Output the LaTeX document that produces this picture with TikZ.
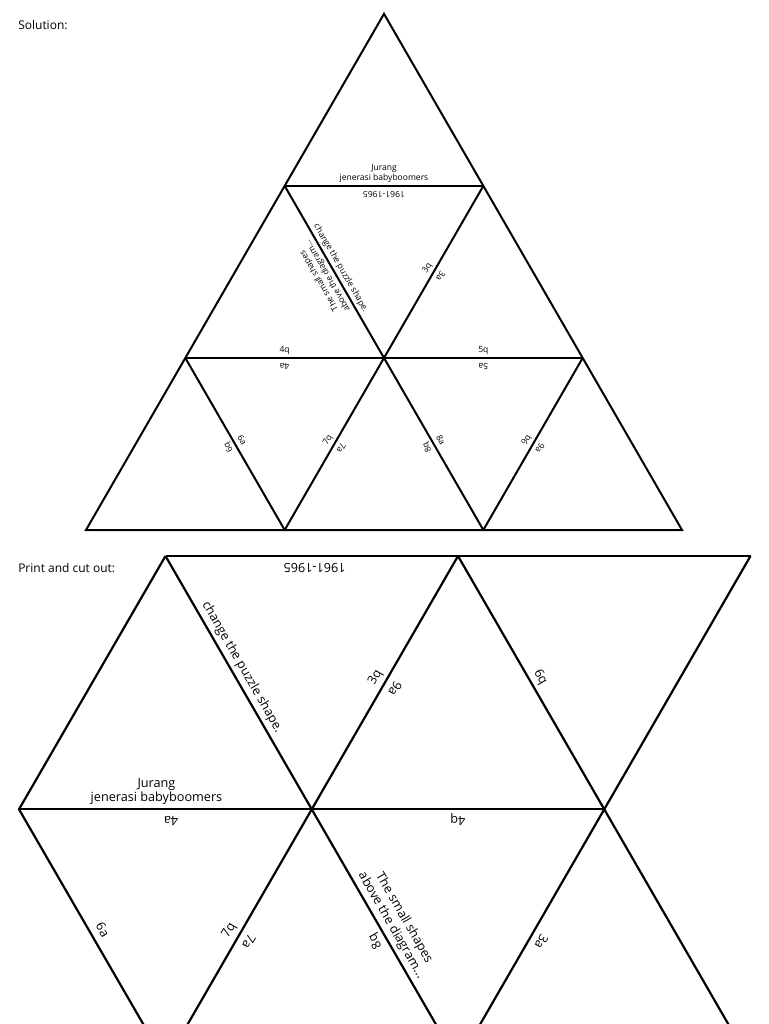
\documentclass[tikz,border=0pt]{standalone}
\usepackage{fontspec}
\setmainfont{Open Sans}
\begin{document}
\begin{tikzpicture}[x=0.75pt,y=-0.75pt,
  edgeline/.style={line width=1.5pt, line join=miter, line cap=butt},
  cutline/.style={line width=1.65pt, line join=miter, line cap=butt},
  biglab/.style={font=\fontsize{9.5}{11}\selectfont, sloped, allow upside down, above,
    align=center, inner xsep=1pt, inner ysep=5.5pt, text depth=0pt},
  smalllab/.style={font=\fontsize{6.4}{7.4}\selectfont, sloped, allow upside down, above,
    align=center, inner xsep=1pt, inner ysep=3.7pt, text depth=0pt},
  heading/.style={font=\fontsize{9}{11}\selectfont, anchor=base west, inner sep=0pt}]
\useasboundingbox (0,0) rectangle (768,1024);
\clip (0,0) rectangle (768,1024);

% ---------- headings ----------
\node[heading] (hsol) at (18,30) {Solution:};
\node[heading] (hcut) at (18,572) {Print and cut out:};

% ---------- solution triangle ----------
\coordinate (t00) at (384,13.85);
\coordinate (t10) at (284.67,185.9);  \coordinate (t11) at (483.33,185.9);
\coordinate (t20) at (185.33,357.95); \coordinate (t21) at (384,357.95); \coordinate (t22) at (582.67,357.95);
\coordinate (t30) at (86,530); \coordinate (t31) at (284.67,530); \coordinate (t32) at (483.33,530); \coordinate (t33) at (682,530);

\draw[edgeline] (t30) -- (t33) -- (t00) -- cycle;
\draw[edgeline] (t10) -- (t11);
\draw[edgeline] (t20) -- (t22);
\draw[edgeline] (t10) -- (t32);
\draw[edgeline] (t11) -- (t31);
\draw[edgeline] (t20) -- (t31);
\draw[edgeline] (t22) -- (t32);

\path (t10) -- node[smalllab] (sJ) {Jurang\\jenerasi babyboomers} (t11);
\path (t11) -- node[smalllab] (sY) {1961-1965} (t10);
\path (t10) -- node[smalllab] (sC) {change the puzzle shape.} (t21);
\path (t21) -- node[smalllab] (sT) {The small shapes\\above the diagram...} (t10);
\path (t21) -- node[smalllab] (s3q) {3q} (t11);
\path (t11) -- node[smalllab] (s3a) {3a} (t21);
\path (t20) -- node[smalllab] (s4q) {4q} (t21);
\path (t21) -- node[smalllab] (s4a) {4a} (t20);
\path (t21) -- node[smalllab] (s5q) {5q} (t22);
\path (t22) -- node[smalllab] (s5a) {5a} (t21);
\path (t31) -- node[smalllab] (s6q) {6q} (t20);
\path (t20) -- node[smalllab] (s6a) {6a} (t31);
\path (t31) -- node[smalllab] (s7q) {7q} (t21);
\path (t21) -- node[smalllab] (s7a) {7a} (t31);
\path (t32) -- node[smalllab] (s8q) {8q} (t21);
\path (t21) -- node[smalllab] (s8a) {8a} (t32);
\path (t32) -- node[smalllab] (s9q) {9q} (t22);
\path (t22) -- node[smalllab] (s9a) {9a} (t32);

% ---------- cut-out strip ----------
\coordinate (b00) at (165.5,556); \coordinate (b01) at (458,556); \coordinate (b02) at (750.5,556);
\coordinate (b10) at (19,809.3); \coordinate (b11) at (311.5,809.3); \coordinate (b12) at (604,809.3);
\coordinate (b20) at (165.5,1062.6); \coordinate (b21) at (458,1062.6); \coordinate (b22) at (750.5,1062.6);

\draw[cutline] (b00) -- (b02);
\draw[cutline] (b10) -- (b12);
\draw[cutline] (b00) -- (b10) -- (b20);
\draw[cutline] (b00) -- (b21);
\draw[cutline] (b01) -- (b20);
\draw[cutline] (b01) -- (b22);
\draw[cutline] (b02) -- (b21);

\path (b10) -- node[biglab, pos=0.47] (cJ) {Jurang\\jenerasi babyboomers} (b11);
\path (b01) -- node[biglab, pos=0.49] (cY) {1961-1965} (b00);
\path (b00) -- node[biglab, pos=0.46] (cC) {change the puzzle shape.} (b11);
\path (b11) -- node[biglab] (c3q) {3q} (b01);
\path (b01) -- node[biglab] (c9a) {9a} (b11);
\path (b01) -- node[biglab] (c6q) {6q} (b12);
\path (b11) -- node[biglab, pos=0.48] (c4a) {4a} (b10);
\path (b10) -- node[biglab] (c6a) {6a} (b20);
\path (b20) -- node[biglab] (c7q) {7q} (b11);
\path (b11) -- node[biglab] (c7a) {7a} (b20);
\path (b21) -- node[biglab] (c8q) {8q} (b11);
\path (b12) -- node[biglab] (c4q) {4q} (b11);
\path (b11) -- node[biglab, pos=0.48] (cT) {The small shapes\\above the diagram...} (b21);
\path (b12) -- node[biglab] (c3a) {3a} (b21);
\end{tikzpicture}
\end{document}
